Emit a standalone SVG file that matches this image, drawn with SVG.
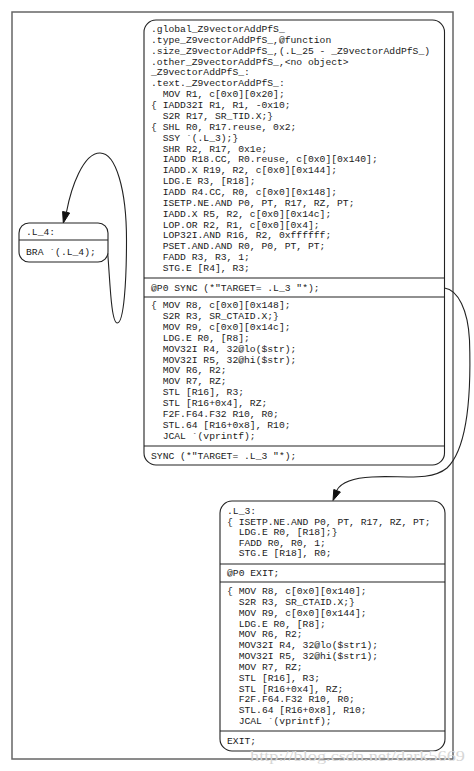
<svg xmlns="http://www.w3.org/2000/svg" width="474" height="771" viewBox="0 0 474 771">
<style>
.bg{fill:#ffffff}
.frame{fill:none;stroke:#666666;stroke-width:1.5}
.node{fill:#ffffff;stroke:#222222;stroke-width:1.1}
.div{stroke:#222222;stroke-width:1.1}
.t{font-family:"Liberation Mono","Courier New",monospace;font-size:9.7px;fill:#1a1a1a;white-space:pre}
.edge{fill:none;stroke:#222222;stroke-width:1.1}
.ah{fill:#111111;stroke:#111111;stroke-width:1}
.wm{font-family:"Liberation Serif",serif;font-size:14px;fill:#d6d6d6}
</style>
<rect class="bg" x="0" y="0" width="474" height="771"/>
<rect class="frame" x="12" y="12" width="441" height="747"/>
<g id="connectors">
<path class="edge" d="M107.7,253 C110,280 111,323 117.3,323 C124,323 126.5,280 126.5,240 C126.5,190 116,153 100,153 C83,153 71,188 66.5,212"/>
<polygon class="ah" points="63.3,223 62.6,211.5 69.6,213"/>
<path class="edge" d="M444.5,288 C458,290 468,310 469.5,340 C471.5,400 466,450 447,468 C430,482 400,475 372,477 C352,478 341,483 337,490"/>
<polygon class="ah" points="333,500.5 333.8,489.5 340.4,492"/>
</g>
<g id="node_vectorAdd">
<rect class="node" x="144" y="20" width="300.5" height="445" rx="12" ry="12"/>
<line class="div" x1="144" y1="278" x2="444.5" y2="278"/>
<line class="div" x1="144" y1="297" x2="444.5" y2="297"/>
<line class="div" x1="144" y1="446" x2="444.5" y2="446"/>
<text class="t" xml:space="preserve" x="151" y="32">.global_Z9vectorAddPfS_</text>
<text class="t" xml:space="preserve" x="151" y="42.9">.type_Z9vectorAddPfS_,@function</text>
<text class="t" xml:space="preserve" x="151" y="53.7">.size_Z9vectorAddPfS_,(.L_25 - _Z9vectorAddPfS_)</text>
<text class="t" xml:space="preserve" x="151" y="64.6">.other_Z9vectorAddPfS_,&lt;no object&gt;</text>
<text class="t" xml:space="preserve" x="151" y="75.4">_Z9vectorAddPfS_:</text>
<text class="t" xml:space="preserve" x="151" y="86.3">.text._Z9vectorAddPfS_:</text>
<text class="t" xml:space="preserve" x="151" y="97.2">  MOV R1, c[0x0][0x20];</text>
<text class="t" xml:space="preserve" x="151" y="108">{ IADD32I R1, R1, -0x10;</text>
<text class="t" xml:space="preserve" x="151" y="118.9">  S2R R17, SR_TID.X;}</text>
<text class="t" xml:space="preserve" x="151" y="129.7">{ SHL R0, R17.reuse, 0x2;</text>
<text class="t" xml:space="preserve" x="151" y="140.6">  SSY `(.L_3);}</text>
<text class="t" xml:space="preserve" x="151" y="151.5">  SHR R2, R17, 0x1e;</text>
<text class="t" xml:space="preserve" x="151" y="162.3">  IADD R18.CC, R0.reuse, c[0x0][0x140];</text>
<text class="t" xml:space="preserve" x="151" y="173.2">  IADD.X R19, R2, c[0x0][0x144];</text>
<text class="t" xml:space="preserve" x="151" y="184">  LDG.E R3, [R18];</text>
<text class="t" xml:space="preserve" x="151" y="194.9">  IADD R4.CC, R0, c[0x0][0x148];</text>
<text class="t" xml:space="preserve" x="151" y="205.8">  ISETP.NE.AND P0, PT, R17, RZ, PT;</text>
<text class="t" xml:space="preserve" x="151" y="216.6">  IADD.X R5, R2, c[0x0][0x14c];</text>
<text class="t" xml:space="preserve" x="151" y="227.5">  LOP.OR R2, R1, c[0x0][0x4];</text>
<text class="t" xml:space="preserve" x="151" y="238.3">  LOP32I.AND R16, R2, 0xffffff;</text>
<text class="t" xml:space="preserve" x="151" y="249.2">  PSET.AND.AND R0, P0, PT, PT;</text>
<text class="t" xml:space="preserve" x="151" y="260.1">  FADD R3, R3, 1;</text>
<text class="t" xml:space="preserve" x="151" y="270.9">  STG.E [R4], R3;</text>
<text class="t" xml:space="preserve" x="151" y="290.5">@P0 SYNC (*"TARGET= .L_3 "*);</text>
<text class="t" xml:space="preserve" x="151" y="308">{ MOV R8, c[0x0][0x148];</text>
<text class="t" xml:space="preserve" x="151" y="318.9">  S2R R3, SR_CTAID.X;}</text>
<text class="t" xml:space="preserve" x="151" y="329.8">  MOV R9, c[0x0][0x14c];</text>
<text class="t" xml:space="preserve" x="151" y="340.7">  LDG.E R0, [R8];</text>
<text class="t" xml:space="preserve" x="151" y="351.6">  MOV32I R4, 32@lo($str);</text>
<text class="t" xml:space="preserve" x="151" y="362.5">  MOV32I R5, 32@hi($str);</text>
<text class="t" xml:space="preserve" x="151" y="373.4">  MOV R6, R2;</text>
<text class="t" xml:space="preserve" x="151" y="384.3">  MOV R7, RZ;</text>
<text class="t" xml:space="preserve" x="151" y="395.2">  STL [R16], R3;</text>
<text class="t" xml:space="preserve" x="151" y="406.1">  STL [R16+0x4], RZ;</text>
<text class="t" xml:space="preserve" x="151" y="417">  F2F.F64.F32 R10, R0;</text>
<text class="t" xml:space="preserve" x="151" y="427.9">  STL.64 [R16+0x8], R10;</text>
<text class="t" xml:space="preserve" x="151" y="438.8">  JCAL `(vprintf);</text>
<text class="t" xml:space="preserve" x="151" y="458.5">SYNC (*"TARGET= .L_3 "*);</text>
</g>
<g id="node_L4">
<rect class="node" x="19" y="223" width="89" height="39" rx="10" ry="10"/>
<line class="div" x1="19" y1="240" x2="108" y2="240"/>
<text class="t" xml:space="preserve" x="26" y="235">.L_4:</text>
<text class="t" xml:space="preserve" x="26" y="255">BRA `(.L_4);</text>
</g>
<g id="node_L3">
<rect class="node" x="220" y="501" width="225" height="250" rx="12" ry="12"/>
<line class="div" x1="220" y1="564" x2="445" y2="564"/>
<line class="div" x1="220" y1="582" x2="445" y2="582"/>
<line class="div" x1="220" y1="731" x2="445" y2="731"/>
<text class="t" xml:space="preserve" x="227" y="514">.L_3:</text>
<text class="t" xml:space="preserve" x="227" y="524.6">{ ISETP.NE.AND P0, PT, R17, RZ, PT;</text>
<text class="t" xml:space="preserve" x="227" y="535.2">  LDG.E R0, [R18];}</text>
<text class="t" xml:space="preserve" x="227" y="545.8">  FADD R0, R0, 1;</text>
<text class="t" xml:space="preserve" x="227" y="556.4">  STG.E [R18], R0;</text>
<text class="t" xml:space="preserve" x="227" y="576">@P0 EXIT;</text>
<text class="t" xml:space="preserve" x="227" y="594">{ MOV R8, c[0x0][0x140];</text>
<text class="t" xml:space="preserve" x="227" y="604.8">  S2R R3, SR_CTAID.X;}</text>
<text class="t" xml:space="preserve" x="227" y="615.7">  MOV R9, c[0x0][0x144];</text>
<text class="t" xml:space="preserve" x="227" y="626.5">  LDG.E R0, [R8];</text>
<text class="t" xml:space="preserve" x="227" y="637.3">  MOV R6, R2;</text>
<text class="t" xml:space="preserve" x="227" y="648.2">  MOV32I R4, 32@lo($str1);</text>
<text class="t" xml:space="preserve" x="227" y="659">  MOV32I R5, 32@hi($str1);</text>
<text class="t" xml:space="preserve" x="227" y="669.8">  MOV R7, RZ;</text>
<text class="t" xml:space="preserve" x="227" y="680.6">  STL [R16], R3;</text>
<text class="t" xml:space="preserve" x="227" y="691.5">  STL [R16+0x4], RZ;</text>
<text class="t" xml:space="preserve" x="227" y="702.3">  F2F.F64.F32 R10, R0;</text>
<text class="t" xml:space="preserve" x="227" y="713.1">  STL.64 [R16+0x8], R10;</text>
<text class="t" xml:space="preserve" x="227" y="724">  JCAL `(vprintf);</text>
<text class="t" xml:space="preserve" x="227" y="744">EXIT;</text>
</g>
<text class="wm" x="250" y="761" textLength="215" lengthAdjust="spacingAndGlyphs">http://blog.csdn.net/dark5669</text>
</svg>
